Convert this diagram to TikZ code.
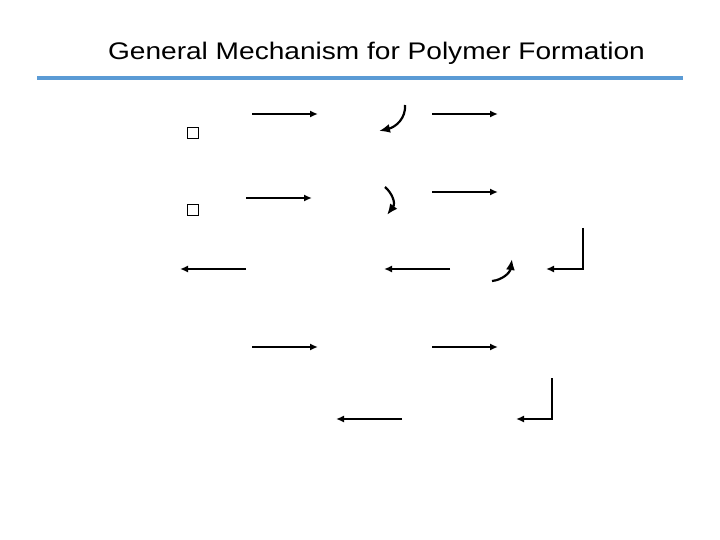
\documentclass[tikz,border=0pt]{standalone}
\usepackage{fontspec}
\setmainfont{Liberation Sans}
\newfontfamily\titlefont[FakeStretch=1.17]{Liberation Sans}
\usetikzlibrary{arrows.meta}
\definecolor{rule}{HTML}{5B9BD5}
\begin{document}
\begin{tikzpicture}[x=1pt,y=-1pt,
  arr/.style={line width=2.4pt,-{Latex[length=8pt,width=7pt]}},
  curv/.style={line width=2.2pt,-{Latex[length=11pt,width=9pt]}},
  box/.style={draw,line width=0.9pt,minimum size=11pt,inner sep=0pt}]
\useasboundingbox (0,0) rectangle (720,540);
\node[font=\titlefont\fontsize{24}{28}\selectfont,anchor=base,inner sep=0pt] (title) at (376.5,60) {General Mechanism for Polymer Formation};
\coordinate (rl) at (37,78); \coordinate (rr) at (683,78);
\draw[rule,line width=4pt] (rl) -- (rr);
\node[box] (b1) at (192.5,132.5) {};
\node[box] (b2) at (192.5,210) {};
% row 1
\coordinate (a1s) at (252,114); \coordinate (a1e) at (318,114);
\coordinate (a2s) at (432,114); \coordinate (a2e) at (498,114);
\draw[arr] (a1s) -- (a1e);
\draw[arr] (a2s) -- (a2e);
\coordinate (c1s) at (405,105); \coordinate (c1e) at (379,131);
\draw[curv] (c1s) .. controls (406,118) and (396,127) .. (c1e);
% row 2
\coordinate (a3s) at (246,198); \coordinate (a3e) at (312,198);
\coordinate (a4s) at (432,192); \coordinate (a4e) at (498,192);
\draw[arr] (a3s) -- (a3e);
\draw[arr] (a4s) -- (a4e);
\coordinate (c2s) at (385,187); \coordinate (c2e) at (387,215);
\draw[curv] (c2s) .. controls (392,193) and (396,203) .. (c2e);
% row 3
\coordinate (a5s) at (246,269); \coordinate (a5e) at (180,269);
\coordinate (a6s) at (450,269); \coordinate (a6e) at (384,269);
\draw[arr] (a5s) -- (a5e);
\draw[arr] (a6s) -- (a6e);
\coordinate (c3s) at (492,281); \coordinate (c3e) at (512,259);
\draw[curv] (c3s) .. controls (502,280) and (510,273) .. (c3e);
\coordinate (e1s) at (583,228); \coordinate (e1e) at (546,269);
\draw[arr] (e1s) |- (e1e);
% row 4
\coordinate (a7s) at (252,347); \coordinate (a7e) at (318,347);
\coordinate (a8s) at (432,347); \coordinate (a8e) at (498,347);
\draw[arr] (a7s) -- (a7e);
\draw[arr] (a8s) -- (a8e);
\coordinate (e2s) at (552,378); \coordinate (e2e) at (516,419);
\draw[arr] (e2s) |- (e2e);
\coordinate (a9s) at (402,419); \coordinate (a9e) at (336,419);
\draw[arr] (a9s) -- (a9e);
\end{tikzpicture}
\end{document}
